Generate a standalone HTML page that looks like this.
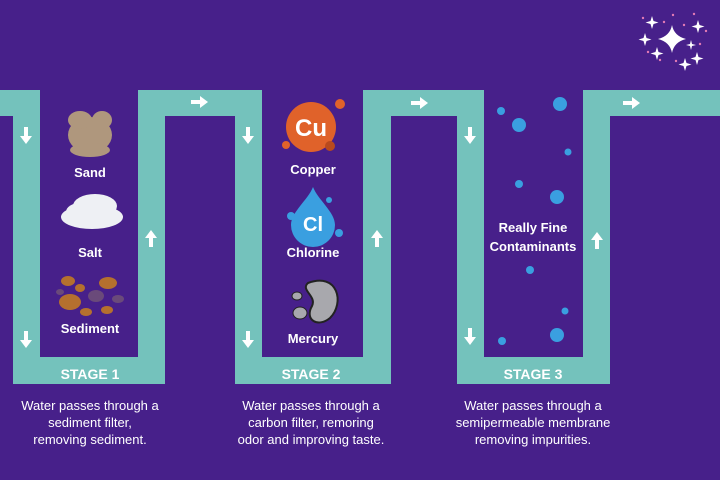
<!DOCTYPE html>
<html><head><meta charset="utf-8"><style>
html,body{margin:0;padding:0;background:#47208a;}
svg{display:block}
text{font-family:"Liberation Sans",sans-serif;}
</style></head><body>
<svg width="720" height="480" viewBox="0 0 720 480" xmlns="http://www.w3.org/2000/svg">
<rect width="720" height="480" fill="#47208a"/>
<g fill="#74c2bc">
<rect x="0" y="90" width="40" height="26"/>
<rect x="13" y="90" width="27" height="294"/>
<rect x="13" y="357" width="152" height="27"/>
<rect x="138" y="90" width="27" height="294"/>
<rect x="138" y="90" width="124" height="26"/>
<rect x="235" y="90" width="27" height="294"/>
<rect x="235" y="357" width="156" height="27"/>
<rect x="363" y="90" width="28" height="294"/>
<rect x="363" y="90" width="121" height="26"/>
<rect x="457" y="90" width="27" height="294"/>
<rect x="457" y="357" width="153" height="27"/>
<rect x="583" y="90" width="27" height="294"/>
<rect x="583" y="90" width="137" height="26"/>
</g>
<defs>
<g id="ad" fill="#fff"><rect x="-2" y="-9" width="4" height="10"/><polygon points="-6,0 6,0 0,8"/></g>
<g id="ar" fill="#fff"><rect x="-9" y="-2" width="10" height="4"/><polygon points="0,-6 0,6 8,0"/></g>
</defs>
<use href="#ad" x="26" y="136"/><use href="#ad" x="26" y="340"/>
<use href="#ad" x="248" y="136"/><use href="#ad" x="248" y="340"/>
<use href="#ad" x="470" y="136"/><use href="#ad" x="470" y="337"/>
<use href="#ad" x="151" y="238" transform="rotate(180 151 238)"/>
<use href="#ad" x="377" y="238" transform="rotate(180 377 238)"/>
<use href="#ad" x="597" y="240" transform="rotate(180 597 240)"/>
<use href="#ar" x="200" y="102"/><use href="#ar" x="420" y="103"/><use href="#ar" x="632" y="103"/>
<g font-weight="bold" fill="#fff" font-size="14" text-anchor="middle">
<text x="90" y="379">STAGE 1</text><text x="311" y="379">STAGE 2</text><text x="533" y="379">STAGE 3</text>
</g>
<g fill="#fff" font-size="13" text-anchor="middle">
<text x="90" y="410">Water passes through a</text>
<text x="90" y="427">sediment filter,</text>
<text x="90" y="444">removing sediment.</text>
<text x="311" y="410">Water passes through a</text>
<text x="311" y="427">carbon filter, remoring</text>
<text x="311" y="444">odor and improving taste.</text>
<text x="533" y="410">Water passes through a</text>
<text x="533" y="427">semipermeable membrane</text>
<text x="533" y="444">removing impurities.</text>
</g>
<g fill="#c9b57a" opacity="0.8">
<ellipse cx="90" cy="135" rx="22" ry="18"/><ellipse cx="80" cy="120" rx="12" ry="9"/><ellipse cx="102" cy="120" rx="10" ry="9"/><ellipse cx="90" cy="150" rx="20" ry="7"/>
</g>
<g fill="#eef0f4"><ellipse cx="92" cy="217" rx="31" ry="12"/><ellipse cx="95" cy="206" rx="22" ry="12"/><ellipse cx="80" cy="212" rx="14" ry="9"/></g>
<g fill="#b5702e"><ellipse cx="68" cy="281" rx="7" ry="5"/><ellipse cx="108" cy="283" rx="9" ry="6"/><ellipse cx="80" cy="288" rx="5" ry="4"/><ellipse cx="70" cy="302" rx="11" ry="8"/><ellipse cx="86" cy="312" rx="6" ry="4"/><ellipse cx="107" cy="310" rx="6" ry="4"/></g>
<g fill="#6a4a7a"><ellipse cx="96" cy="296" rx="8" ry="6"/><ellipse cx="118" cy="299" rx="6" ry="4"/><ellipse cx="60" cy="292" rx="4" ry="3"/></g>
<g font-weight="bold" fill="#fff" font-size="13" text-anchor="middle">
<text x="90" y="177">Sand</text><text x="90" y="257">Salt</text><text x="90" y="333">Sediment</text>
<text x="313" y="174">Copper</text><text x="313" y="257">Chlorine</text><text x="313" y="343">Mercury</text>
<text x="533" y="232">Really Fine</text><text x="533" y="251">Contaminants</text>
</g>
<circle cx="311" cy="127" r="25" fill="#e0622a"/><circle cx="340" cy="104" r="5" fill="#e0622a"/><circle cx="286" cy="145" r="4" fill="#e0622a"/><circle cx="330" cy="146" r="5" fill="#b94a1d"/>
<text x="311" y="136" font-weight="bold" font-size="24" fill="#fff" text-anchor="middle">Cu</text>
<path d="M313 187 C318 200 335 212 335 225 A22 22 0 0 1 291 225 C291 212 308 200 313 187Z" fill="#3a9fe0"/>
<circle cx="291" cy="216" r="4" fill="#3a9fe0"/><circle cx="339" cy="233" r="4" fill="#3a9fe0"/><circle cx="329" cy="200" r="3" fill="#3a9fe0"/>
<text x="313" y="231" font-weight="bold" font-size="20" fill="#fff" text-anchor="middle">Cl</text>
<path d="M308 283 C338 272 345 303 330 318 C318 328 304 320 312 306 C317 296 300 290 308 283Z" fill="#a8a8ad" stroke="#222" stroke-width="2"/>
<ellipse cx="297" cy="296" rx="5" ry="4" fill="#a8a8ad" stroke="#222"/><ellipse cx="300" cy="313" rx="7" ry="6" fill="#a8a8ad" stroke="#222"/>
<g fill="#3a9fe0">
<circle cx="560" cy="104" r="7"/><circle cx="501" cy="111" r="4"/><circle cx="519" cy="125" r="7"/><circle cx="568" cy="152" r="3.5"/><circle cx="519" cy="184" r="4"/><circle cx="557" cy="197" r="7"/><circle cx="530" cy="270" r="4"/><circle cx="565" cy="311" r="3.5"/><circle cx="557" cy="335" r="7"/><circle cx="502" cy="341" r="4"/>
</g>
<g fill="#fff">
<path d="M672 25 Q674 36 686 39 Q674 42 672 53 Q670 42 658 39 Q670 36 672 25Z"/>
<path d="M652 16 l1.5 5 5 1.5 -5 1.5 -1.5 5 -1.5 -5 -5 -1.5 5 -1.5Z"/>
<path d="M698 20 l1.5 5 5 1.5 -5 1.5 -1.5 5 -1.5 -5 -5 -1.5 5 -1.5Z"/>
<path d="M645 33 l1.5 5 5 1.5 -5 1.5 -1.5 5 -1.5 -5 -5 -1.5 5 -1.5Z"/>
<path d="M657 47 l1.5 5 5 1.5 -5 1.5 -1.5 5 -1.5 -5 -5 -1.5 5 -1.5Z"/>
<path d="M697 52 l1.5 5 5 1.5 -5 1.5 -1.5 5 -1.5 -5 -5 -1.5 5 -1.5Z"/>
<path d="M685 58 l1.5 5 5 1.5 -5 1.5 -1.5 5 -1.5 -5 -5 -1.5 5 -1.5Z"/>
<path d="M691 40 l1 4 4 1 -4 1 -1 4 -1 -4 -4 -1 4 -1Z"/>
</g>
<g fill="#e27ab5"><circle cx="643" cy="18" r="1.2"/><circle cx="673" cy="15" r="1.2"/><circle cx="694" cy="14" r="1.2"/><circle cx="706" cy="31" r="1.2"/><circle cx="648" cy="52" r="1.2"/><circle cx="676" cy="61" r="1.2"/><circle cx="700" cy="44" r="1.2"/><circle cx="664" cy="22" r="1.2"/><circle cx="684" cy="25" r="1.2"/><circle cx="660" cy="60" r="1.2"/></g>
</svg>
</body></html>
